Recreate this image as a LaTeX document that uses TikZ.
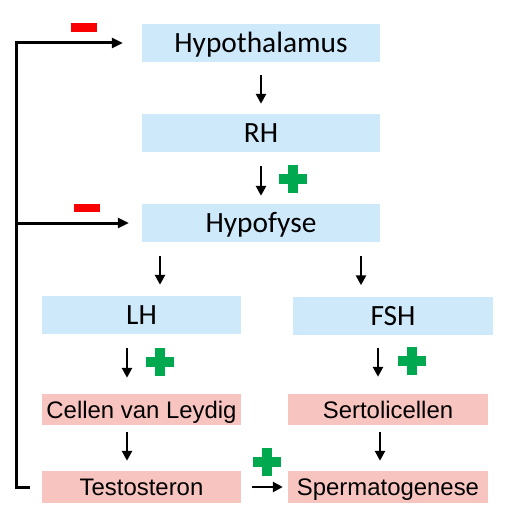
\documentclass[tikz,border=0pt]{standalone}
\usepackage{fontspec}
\setmainfont{Carlito}
\newfontfamily\arialfont{Liberation Sans}
\usetikzlibrary{arrows.meta}
\definecolor{boxblue}{RGB}{205,233,250}
\definecolor{boxpink}{RGB}{248,196,192}
\definecolor{plusgreen}{RGB}{0,168,80}
\definecolor{minred}{RGB}{250,0,0}
\begin{document}
\begin{tikzpicture}[x=1bp,y=-1bp]
\tikzstyle{every node}+=[inner sep=0pt]
\tikzstyle{hormone}=[fill=boxblue,minimum height=38bp,font=\fontsize{29.5}{30}\selectfont,text height=19bp,text depth=0pt]
\tikzstyle{cell}=[fill=boxpink,minimum width=199bp,minimum height=31bp,font=\arialfont\fontsize{24}{26}\selectfont,text height=17bp,text depth=0pt]
\tikzstyle{flow}=[line width=2.5bp,-{Triangle[length=10bp,width=10bp]}]
\tikzstyle{fback}=[line width=3bp,-{Triangle[length=11bp,width=10bp]}]
\useasboundingbox (0,0) rectangle (510,532);
\node [hormone,minimum width=238bp] (hyp) at (261,43) {Hypothalamus};
\node [hormone,minimum width=238bp] (rh) at (261,133) {RH};
\node [hormone,minimum width=238bp] (hypofyse) at (261,223) {Hypofyse};
\node [hormone,minimum width=199bp] (lh) at (141.5,315) {LH};
\node [hormone,minimum width=200bp] (fsh) at (393,315.5) {FSH};
\node [cell] (leydig) at (141.5,409.5) {Cellen van Leydig};
\node [cell,minimum width=200bp] (sertoli) at (388,409.5) {Sertolicellen};
\node [cell,minimum height=32bp] (testo) at (141.5,487) {Testosteron};
\node [cell,minimum width=200bp,minimum height=32bp] (sperm) at (388,487) {Spermatogenese};
\draw [flow,shorten <=13bp,shorten >=10bp] (hyp) -- (rh);
\draw [flow,shorten <=14bp,shorten >=8bp] (rh) -- (hypofyse);
\draw [flow,shorten <=14bp,shorten >=11bp] (hypofyse.south -| 160,0) -- (lh.north -| 160,0);
\draw [flow,shorten <=14bp,shorten >=11bp] (hypofyse.south -| 361,0) -- (fsh.north -| 361,0);
\draw [flow,shorten <=14bp,shorten >=16bp] (lh.south -| 127,0) -- (leydig.north -| 127,0);
\draw [flow,shorten <=13bp,shorten >=17bp] (fsh.south -| 378,0) -- (sertoli.north -| 378,0);
\draw [flow,shorten <=7bp,shorten >=10bp] (leydig.south -| 127,0) -- (testo.north -| 127,0);
\draw [flow,shorten <=7bp,shorten >=10bp] (sertoli.south -| 380,0) -- (sperm.north -| 380,0);
\draw [flow,shorten <=11bp,shorten >=5bp] (testo) -- (sperm);
% feedback
\coordinate (loop) at (16,0);
\draw [fback,shorten >=19bp] ([xshift=-12bp]testo.west) -- (testo.west -| loop) -- (hyp.west -| loop) -- (hyp.west);
\draw [fback,shorten >=13bp] (hypofyse.west -| loop) -- (hypofyse.west);
\fill [minred] (71,23) rectangle (97,32);
\fill [minred] (74,204) rectangle (100,212);
\foreach \cx/\cy in {293/179,160/362,412/361,267/462}
{
\fill [plusgreen] ({\cx-14},{\cy-5}) rectangle ({\cx+14},{\cy+5});
\fill [plusgreen] ({\cx-5},{\cy-14}) rectangle ({\cx+5},{\cy+14});
}
\end{tikzpicture}
\end{document}
